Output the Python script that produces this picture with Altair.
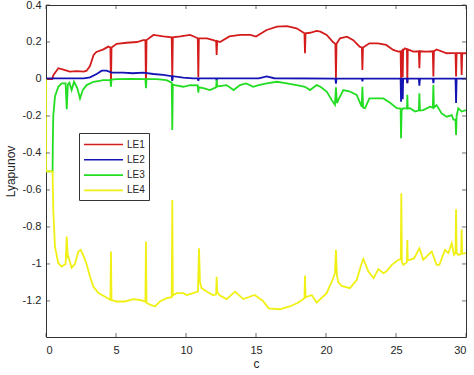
import altair as alt
import pandas as pd

SERIES = ["LE1", "LE2", "LE3", "LE4"]
COLORS = ["#d41c1c", "#1414b4", "#22dd22", "#f0f014"]

LE1 = [(0, 0), (0.45, 0.0), (0.52, 0.02), (0.88, 0.058), (1.24, 0.05), (1.7, 0.04), (2.2, 0.042), (2.7, 0.04),
       (2.9, 0.045), (3.14, 0.07), (3.4, 0.13), (3.6, 0.146), (4.1, 0.16), (4.45, 0.175), (4.6, 0.17), (4.64, -0.038),
       (4.68, 0.17), (5.05, 0.19), (5.76, 0.196), (6.5, 0.2), (6.95, 0.21), (7.1, 0.21), (7.14, -0.04), (7.18, 0.21),
       (7.67, 0.238), (8.38, 0.23), (8.98, 0.225), (9.02, -0.005), (9.06, 0.225), (9.6, 0.23), (10.3, 0.238),
       (10.84, 0.22), (10.88, 0.009), (10.92, 0.22), (11.5, 0.22), (11.95, 0.21), (12.15, 0.205), (12.19, 0.13),
       (12.23, 0.205), (12.43, 0.2), (13.1, 0.23), (13.86, 0.238), (14.6, 0.238), (15.0, 0.229), (15.76, 0.265),
       (16.5, 0.283), (17.2, 0.286), (17.9, 0.274), (18.46, 0.247), (18.5, 0.139), (18.54, 0.247), (18.86, 0.25),
       (19.33, 0.26), (19.6, 0.256), (20.05, 0.238), (20.5, 0.2), (20.67, 0.19), (20.71, 0.005), (20.75, 0.19),
       (21.0, 0.22), (21.5, 0.229), (21.95, 0.21), (22.4, 0.175), (22.56, 0.17), (22.6, 0.049), (22.64, 0.17),
       (23.1, 0.193), (23.7, 0.193), (24.3, 0.184), (24.8, 0.157), (25.17, 0.148), (25.33, 0.15), (25.36, 0.005),
       (25.39, 0.15), (25.45, 0.155), (25.48, 0.01), (25.51, 0.155), (25.64, 0.166), (25.78, 0.16), (25.81, -0.023),
       (25.84, 0.16), (26.24, 0.148), (26.63, 0.15), (26.67, 0.058), (26.71, 0.15), (27.19, 0.148), (27.63, 0.15),
       (27.67, 0.013), (27.71, 0.15), (27.9, 0.16), (28.62, 0.139), (29.1, 0.14), (29.25, 0.14), (29.29, 0.013),
       (29.33, 0.14), (29.65, 0.14), (29.69, 0.022), (29.73, 0.14), (30, 0.139)]

LE2 = [(0, 0.003), (2.7, 0.003), (3.14, 0.009), (3.62, 0.027), (3.98, 0.045), (4.33, 0.045), (4.69, 0.034),
       (5.5, 0.034), (6.2, 0.031), (6.95, 0.034), (7.67, 0.027), (8.38, 0.022), (8.98, 0.015), (9.02, -0.01),
       (9.06, 0.015), (9.8, 0.007), (10.5, 0.003), (10.84, 0.003), (10.88, -0.01), (10.92, 0.003), (12.15, 0.003),
       (12.19, -0.008), (12.23, 0.003), (15.2, 0.003), (15.76, 0.014), (16.3, 0.004), (20.67, 0.002),
       (20.71, -0.025), (20.75, 0.002), (22.56, 0.002), (22.6, -0.012), (22.64, 0.002), (25.33, 0.002),
       (25.36, -0.123), (25.39, 0.002), (25.45, 0.002), (25.48, -0.11), (25.51, 0.002), (25.78, 0.002),
       (25.81, -0.023), (25.84, 0.002), (26.63, 0.002), (26.67, -0.036), (26.71, 0.002), (27.63, 0.002),
       (27.67, -0.023), (27.71, 0.002), (29.25, 0.002), (29.29, -0.13), (29.33, 0.002), (30, 0.002)]

LE3 = [(0, -0.5), (0.47, -0.5), (0.49, -0.33), (0.52, -0.2), (0.64, -0.095), (0.88, -0.042), (1.12, -0.024),
       (1.4, -0.024), (1.48, -0.164), (1.56, -0.03), (1.67, -0.02), (1.83, -0.06), (2.0, -0.015), (2.24, -0.05),
       (2.43, -0.105), (2.62, -0.06), (2.9, -0.033), (3.4, -0.015), (4.1, -0.006), (4.6, -0.005), (4.64, -0.042),
       (4.68, -0.003), (5.05, -0.001), (6.0, 0.0), (7.1, -0.001), (7.14, -0.05), (7.18, -0.001), (7.9, -0.001),
       (8.6, -0.006), (8.98, -0.02), (9.02, -0.276), (9.06, -0.03), (9.2, -0.033), (9.8, -0.042), (10.3, -0.033),
       (10.84, -0.035), (10.88, -0.074), (10.92, -0.045), (11.24, -0.05), (11.7, -0.06), (12.15, -0.045),
       (12.19, -0.005), (12.23, -0.04), (12.9, -0.033), (13.4, -0.06), (13.86, -0.033), (14.3, -0.024),
       (14.8, -0.042), (15.2, -0.033), (15.76, -0.024), (16.5, -0.015), (17.2, -0.024), (17.9, -0.033),
       (18.5, -0.042), (18.86, -0.06), (19.33, -0.033), (19.6, -0.042), (20.05, -0.068), (20.4, -0.113),
       (20.64, -0.14), (20.71, -0.045), (20.78, -0.13), (20.88, -0.113), (21.24, -0.06), (21.71, -0.068),
       (22.19, -0.086), (22.55, -0.15), (22.6, -0.042), (22.65, -0.155), (22.79, -0.158), (23.1, -0.105),
       (23.6, -0.105), (24.1, -0.105), (24.6, -0.13), (25.05, -0.158), (25.33, -0.16), (25.36, -0.32),
       (25.4, -0.17), (25.52, -0.158), (25.78, -0.16), (25.81, -0.086), (25.84, -0.16), (26.0, -0.158),
       (26.36, -0.176), (26.63, -0.17), (26.67, -0.077), (26.71, -0.17), (26.95, -0.168), (27.43, -0.15),
       (27.63, -0.155), (27.67, -0.033), (27.71, -0.155), (27.9, -0.141), (28.26, -0.186), (28.62, -0.204),
       (28.98, -0.195), (29.1, -0.22), (29.25, -0.22), (29.29, -0.303), (29.33, -0.2), (29.45, -0.158),
       (29.69, -0.176), (30, -0.168)]

LE4 = [(0, 0), (0, -0.5), (0.47, -0.5), (0.52, -0.708), (0.64, -0.906), (0.88, -0.996), (1.12, -1.014),
       (1.4, -1.0), (1.48, -0.852), (1.56, -0.97), (1.6, -0.96), (1.83, -1.02), (2.07, -1.0), (2.31, -0.933),
       (2.48, -0.924), (2.67, -0.955), (2.9, -1.0), (3.14, -1.068), (3.38, -1.122), (3.74, -1.158), (4.2, -1.176),
       (4.6, -1.195), (4.64, -0.933), (4.68, -1.195), (5.05, -1.203), (5.64, -1.203), (6.24, -1.19),
       (6.71, -1.195), (7.1, -1.203), (7.14, -0.879), (7.18, -1.21), (7.43, -1.22), (7.79, -1.23), (8.14, -1.203),
       (8.62, -1.185), (8.98, -1.18), (9.02, -0.654), (9.06, -1.17), (9.33, -1.158), (9.81, -1.158),
       (10.05, -1.168), (10.5, -1.158), (10.85, -1.15), (10.93, -0.915), (11.0, -1.1), (11.1, -1.13),
       (11.5, -1.15), (11.95, -1.17), (12.15, -1.165), (12.19, -1.07), (12.23, -1.15), (12.4, -1.17),
       (12.9, -1.19), (13.5, -1.15), (14.1, -1.19), (14.9, -1.168), (15.5, -1.2), (15.9, -1.24), (16.7, -1.245),
       (17.4, -1.23), (18.0, -1.21), (18.46, -1.186), (18.5, -1.063), (18.54, -1.18), (18.98, -1.168),
       (19.33, -1.209), (20.05, -1.158), (20.3, -1.113), (20.4, -1.1), (20.64, -1.05), (20.71, -0.924),
       (20.78, -1.06), (20.88, -1.1), (21.12, -1.119), (21.71, -1.131), (22.19, -1.087), (22.55, -0.996),
       (22.67, -0.973), (23.02, -1.04), (23.4, -1.077), (23.74, -1.028), (24.1, -1.05), (24.33, -1.04),
       (24.7, -1.005), (25.17, -0.978), (25.34, -0.975), (25.38, -0.618), (25.42, -0.99), (25.52, -1.005),
       (25.78, -0.99), (25.81, -0.87), (25.84, -0.98), (26.0, -0.978), (26.3, -0.969), (26.67, -0.915),
       (26.95, -0.978), (27.3, -0.951), (27.55, -0.933), (27.9, -1.005), (28.1, -1.005), (28.5, -0.924),
       (28.74, -0.942), (28.98, -0.888), (29.14, -0.951), (29.25, -0.94), (29.29, -0.705), (29.33, -0.94),
       (29.45, -0.951), (29.65, -0.945), (29.69, -0.813), (29.73, -0.945), (30, -0.942)]

X_TICKS = [0, 5, 10, 15, 20, 25, 30]
Y_TICKS = [0.4, 0.2, 0, -0.2, -0.4, -0.6, -0.8, -1, -1.2]

W, H = 420, 332
AXIS_COLOR = "#333333"
FONT = "Liberation Sans"

rows = []
for name, pts in zip(SERIES, [LE1, LE2, LE3, LE4]):
    for i, (x, y) in enumerate(pts):
        rows.append({"c": x, "v": y, "s": name, "i": i})
df = pd.DataFrame(rows)

xscale = alt.Scale(domain=[0, 30], nice=False, zero=False)
yscale = alt.Scale(domain=[-1.395, 0.4], nice=False, zero=False)

xaxis = alt.Axis(
    title="c", values=X_TICKS, tickSize=0, domain=False, grid=False,
    labelFontSize=11, labelPadding=7, labelColor="#262626", labelFont=FONT,
    titleFont=FONT, titleFontSize=12, titleFontWeight="normal", titleColor="#262626", titlePadding=3)
yaxis = alt.Axis(
    title="Lyapunov", values=Y_TICKS, tickSize=0, domain=False, grid=False,
    labelExpr="datum.value == 0 ? '0' : (datum.value < 0 ? '-' : '') + format(abs(datum.value), '~g')",
    labelFontSize=11, labelPadding=5, labelColor="#262626", labelFont=FONT,
    titleFont=FONT, titleFontSize=12, titleFontWeight="normal", titleColor="#262626", titlePadding=5)

lines = alt.Chart(df).mark_line(strokeWidth=1.8, clip=True).encode(
    x=alt.X("c:Q", scale=xscale, axis=xaxis),
    y=alt.Y("v:Q", scale=yscale, axis=yaxis),
    color=alt.Color("s:N", scale=alt.Scale(domain=SERIES, range=COLORS), legend=alt.Legend(
        title=None, orient="none", legendX=33, legendY=128, symbolType="M-1,0H5", symbolSize=169,
        symbolStrokeWidth=1.6, labelFontSize=10, labelFont=FONT, labelColor="#262626",
        strokeColor=AXIS_COLOR, fillColor="white", padding=4, rowPadding=2.3, labelOffset=29)),
    order="i:Q",
)

xt = pd.DataFrame({"c": X_TICKS})
yt = pd.DataFrame({"v": Y_TICKS})
tick_bottom = alt.Chart(xt).mark_tick(color=AXIS_COLOR, thickness=1, size=4).encode(
    x=alt.X("c:Q", scale=xscale, axis=xaxis), y=alt.value(H - 2))
tick_top = alt.Chart(xt).mark_tick(color=AXIS_COLOR, thickness=1, size=4).encode(
    x=alt.X("c:Q", scale=xscale, axis=xaxis), y=alt.value(2))
tick_left = alt.Chart(yt).mark_tick(color=AXIS_COLOR, thickness=1, size=4, orient="horizontal").encode(
    y=alt.Y("v:Q", scale=yscale, axis=yaxis), x=alt.value(2))
tick_right = alt.Chart(yt).mark_tick(color=AXIS_COLOR, thickness=1, size=4, orient="horizontal").encode(
    y=alt.Y("v:Q", scale=yscale, axis=yaxis), x=alt.value(W - 2))

chart = alt.layer(lines, tick_bottom, tick_top, tick_left, tick_right).properties(
    width=W, height=H,
    padding={"left": 46, "top": 5, "right": 8, "bottom": 38},
    autosize=alt.AutoSizeParams(type="none"),
    background="white",
).configure_view(stroke=AXIS_COLOR, strokeWidth=1)

chart.save("out.html", embed_options={"renderer": "svg", "actions": False})
